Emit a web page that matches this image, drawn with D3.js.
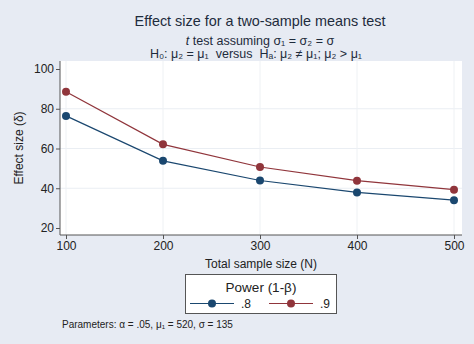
<!DOCTYPE html>
<html><head><meta charset="utf-8">
<script src="https://cdn.jsdelivr.net/npm/d3@7"></script>
<style>body{margin:0;background:#e7ebf3;}svg{display:block;font-family:"Liberation Sans",Arial,sans-serif;}text{white-space:pre;}</style>
</head><body>
<script>
const sampleSizes = [100, 200, 300, 400, 500];
const power80 = [76.4, 53.8, 43.9, 37.9, 34.0];
const power90 = [88.6, 62.1, 50.7, 43.8, 39.3];
const seriesNames = [".8", ".9"];
const seriesColors = ["#1a476f", "#90353b"];
const yTicks = [20, 40, 60, 80, 100];
const xTicks = [100, 200, 300, 400, 500];

const W = 474, H = 344;
const svg = d3.select("body").append("svg").attr("width", W).attr("height", H);
svg.append("rect").attr("width", W).attr("height", H).attr("fill", "#e7ebf3");

const plot = {l: 60, r: 462, t: 61, b: 235};
const x = d3.scaleLinear().domain([100, 500]).range([66, 454]);
const y = d3.scaleLinear().domain([20, 100]).range([228, 69]);

svg.append("rect").attr("x", plot.l).attr("y", plot.t).attr("width", plot.r - plot.l).attr("height", plot.b - plot.t).attr("fill", "#ffffff");

// grid
svg.append("g").selectAll("line").data(yTicks.slice(1, 4)).join("line")
  .attr("x1", plot.l).attr("x2", plot.r).attr("y1", d => y(d)).attr("y2", d => y(d))
  .attr("stroke", "#eaeef3").attr("stroke-width", 1);
svg.append("g").selectAll("line").data(xTicks).join("line")
  .attr("y1", plot.t).attr("y2", plot.b).attr("x1", d => x(d)).attr("x2", d => x(d))
  .attr("stroke", "#eef1f4").attr("stroke-width", 1);

// axes
const yAxis = d3.axisLeft(y).tickValues(yTicks).tickSize(4).tickPadding(2);
const gy = svg.append("g").attr("transform", `translate(${plot.l},0)`).call(yAxis);
gy.select(".domain").attr("d", `M0,${plot.t}V${plot.b}`).attr("stroke", "#555");
gy.selectAll(".tick line").attr("stroke", "#555");
gy.selectAll("text").attr("font-size", 12).attr("fill", "#222");

const xAxis = d3.axisBottom(x).tickValues(xTicks).tickSize(4).tickPadding(2);
const gx = svg.append("g").attr("transform", `translate(0,${plot.b})`).call(xAxis);
gx.select(".domain").attr("d", `M${plot.l},0H${plot.r}`).attr("stroke", "#555");
gx.selectAll(".tick line").attr("stroke", "#555");
gx.selectAll("text").attr("font-size", 12).attr("fill", "#222");

// lines
const series = [power80, power90];
const line = d3.line().x((d, i) => x(sampleSizes[i])).y(d => y(d));
series.forEach((vals, k) => {
  svg.append("path").datum(vals).attr("d", line).attr("fill", "none")
    .attr("stroke", seriesColors[k]).attr("stroke-width", 1.2);
  svg.append("g").selectAll("circle").data(vals).join("circle")
    .attr("cx", (d, i) => x(sampleSizes[i])).attr("cy", d => y(d)).attr("r", 4)
    .attr("fill", seriesColors[k]);
});

// titles
svg.append("text").attr("x", 260).attr("y", 26).attr("text-anchor", "middle")
  .attr("font-size", 14.4).attr("fill", "#1e2b3c").text("Effect size for a two-sample means test");
const sub1 = svg.append("text").attr("x", 260).attr("y", 45).attr("text-anchor", "middle")
  .attr("font-size", 12.5).attr("fill", "#1e2b3c");
sub1.append("tspan").attr("font-style", "italic").text("t");
sub1.append("tspan").text(" test assuming σ₁ = σ₂ = σ");
svg.append("text").attr("x", 256).attr("y", 58).attr("text-anchor", "middle")
  .attr("font-size", 12.5).attr("fill", "#1e2b3c").text("H₀: μ₂ = μ₁  versus  Hₐ: μ₂ ≠ μ₁; μ₂ > μ₁");

svg.append("text").attr("transform", "translate(23,148) rotate(-90)").attr("text-anchor", "middle")
  .attr("font-size", 12).attr("fill", "#222").text("Effect size (δ)");
svg.append("text").attr("x", 261).attr("y", 268).attr("text-anchor", "middle")
  .attr("font-size", 12).attr("fill", "#222").text("Total sample size (N)");

// legend
svg.append("rect").attr("x", 185.5).attr("y", 274.5).attr("width", 151).attr("height", 39)
  .attr("fill", "#fff").attr("stroke", "#555").attr("stroke-width", 1);
svg.append("text").attr("x", 261).attr("y", 292).attr("text-anchor", "middle")
  .attr("font-size", 13.5).attr("fill", "#222").text("Power (1-β)");
const legX = [190, 269];
seriesNames.forEach((name, k) => {
  const lx = legX[k];
  svg.append("line").attr("x1", lx).attr("x2", lx + 44).attr("y1", 303.5).attr("y2", 303.5)
    .attr("stroke", seriesColors[k]).attr("stroke-width", 1.2);
  svg.append("circle").attr("cx", lx + 22).attr("cy", 303.5).attr("r", 4).attr("fill", seriesColors[k]);
  svg.append("text").attr("x", lx + 51).attr("y", 308).attr("font-size", 12).attr("fill", "#222").text(name);
});

svg.append("text").attr("x", 62).attr("y", 328).attr("font-size", 10).attr("fill", "#222")
  .text("Parameters: α = .05, μ₁ = 520, σ = 135");
</script>
</body></html>
